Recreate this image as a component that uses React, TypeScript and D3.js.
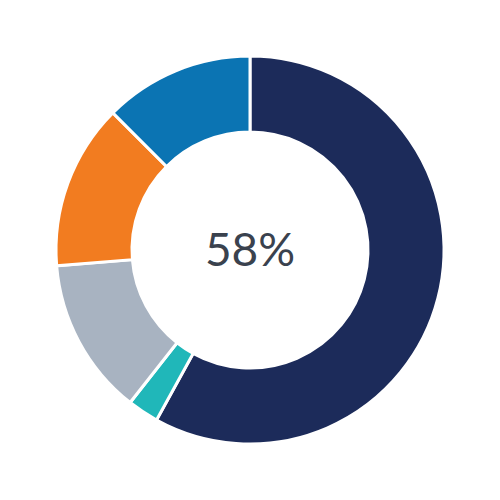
import { useEffect, useRef } from 'react'
import * as d3 from 'd3'

// slice values in percent, clockwise from 12 o'clock
const categories = ['A', 'B', 'C', 'D', 'E']
const values = [58, 2.6, 13.1, 13.8, 12.5]
const colors = ['#1c2b5a', '#20b7b9', '#a8b3c1', '#f27c20', '#0b74b3']
const centerLabel = '58%'

export default function App() {
  const svgRef = useRef<SVGSVGElement>(null)

  useEffect(() => {
    if (!svgRef.current) return
    const svg = d3.select(svgRef.current)
    svg.selectAll('*').remove()

    const width = 500
    const height = 500
    const outer = 194
    const inner = 118

    const g = svg.append('g').attr('transform', `translate(${width / 2},${height / 2})`)

    const pie = d3.pie<number>().sort(null).value(d => d)
    const arc = d3.arc<d3.PieArcDatum<number>>().innerRadius(inner).outerRadius(outer)

    const color = d3.scaleOrdinal<string>().domain(categories).range(colors)

    g.selectAll('path')
      .data(pie(values))
      .enter()
      .append('path')
      .attr('d', arc)
      .attr('fill', (_, i) => color(categories[i]))
      .attr('stroke', '#ffffff')
      .attr('stroke-width', 3)
      .attr('stroke-linejoin', 'miter')

    g.append('text')
      .attr('text-anchor', 'middle')
      .attr('dy', '0.35em')
      .attr('font-family', 'Lato, sans-serif')
      .attr('font-size', 46)
      .attr('fill', '#3a424e')
      .text(centerLabel)
  }, [])

  return (
    <svg
      ref={svgRef}
      width={500}
      height={500}
      style={{ position: 'absolute', left: 0, top: 0, background: '#fff' }}
    />
  )
}
